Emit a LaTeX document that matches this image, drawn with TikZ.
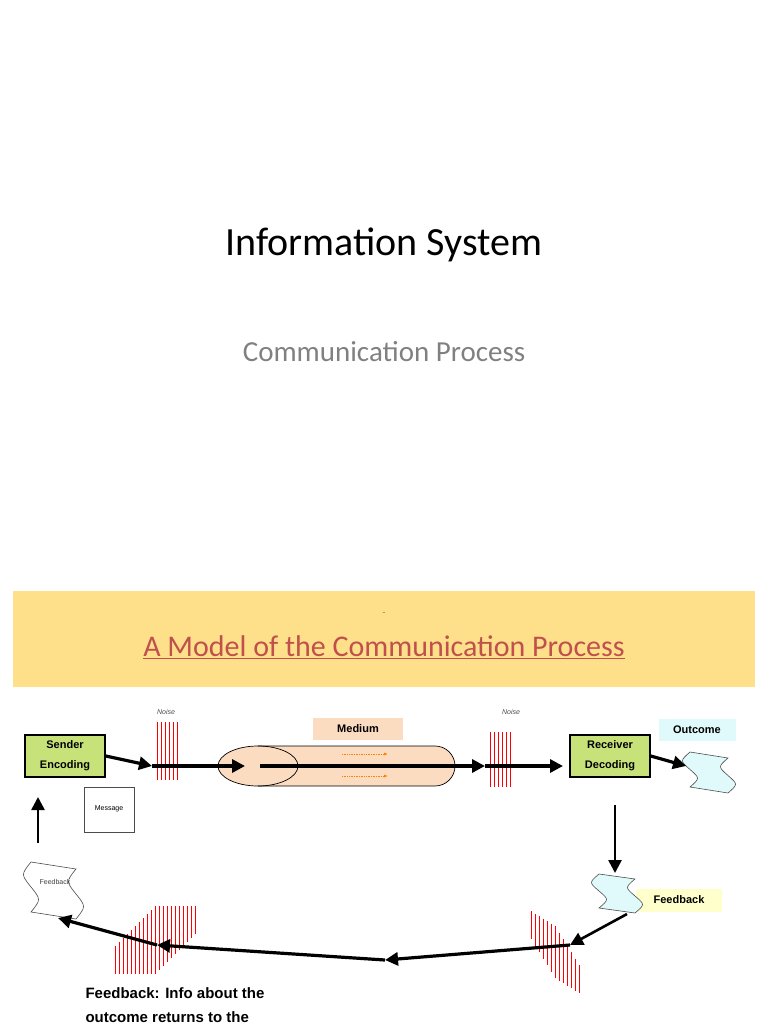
\documentclass[tikz,border=0pt]{standalone}
\usepackage{fontspec}
\setmainfont{Carlito}
\setsansfont{Liberation Sans}
\usetikzlibrary{arrows.meta}
\definecolor{bandyellow}{RGB}{255,224,138}
\definecolor{titlered}{RGB}{192,80,77}
\definecolor{boxgreen}{RGB}{200,226,122}
\definecolor{peach}{RGB}{252,220,192}
\definecolor{paleblue}{RGB}{224,250,252}
\definecolor{paleyellow}{RGB}{255,255,204}

\tikzset{
  stage/.style={draw=black, line width=1.6pt, fill=boxgreen, minimum width=80pt,
    minimum height=42pt, align=center, font=\sffamily\bfseries\fontsize{11}{20}\selectfont},
  tag/.style={inner sep=0pt, minimum height=22pt, font=\sffamily\bfseries\fontsize{11}{13}\selectfont},
  flow/.style={line width=3.2pt, -{Triangle[length=13pt,width=13pt]}},
  noise/.style={red, line width=0.8pt},
  doc/.style={draw=black!70, line width=0.6pt}
}
% wavy sheet: x, y, width, height, skew, fill
\newcommand{\wavysheet}[6]{%
  \draw[doc, fill=#6] (#1,#2) -- ++(#3,#5)
    .. controls ++(-10,#4/4) and ++(-10,-#4/4) .. ++(0,#4/2)
    .. controls ++(10,#4/4) and ++(10,-#4/4) .. ++(0,#4/2)
    -- ++(-#3,-#5)
    .. controls ++(10,-#4/4) and ++(10,#4/4) .. ++(0,-#4/2)
    .. controls ++(-10,-#4/4) and ++(-10,#4/4) .. cycle;}

\begin{document}
\begin{tikzpicture}[x=1pt, y=-1pt]
  \useasboundingbox (0,0) rectangle (768,1024);
  \clip (0,0) rectangle (768,1024);

  % title slide text
  \node (title) at (384,245) {\fontsize{40}{48}\selectfont Information System};
  \node[gray] (subtitle) at (384,352) {\fontsize{29}{34}\selectfont Communication Process};

  % banner
  \fill[bandyellow] (13,591) rectangle (755,687);
  \node[titlered, font=\fontsize{9}{10}\selectfont] (dash) at (384,614) {-};
  \node[titlered] (banner) at (384,647) {\fontsize{30}{36}\selectfont\underline{A Model of the Communication Process}};

  % medium cylinder
  \draw[fill=peach, line width=0.7pt] (258,746) -- (435,746) arc (90:-90:20pt and 20pt) -- (258,786) arc (270:90:40pt and 20pt);
  \draw[line width=0.7pt] (258,746) arc (90:-90:40pt and 20pt);
  \node[tag, fill=peach, minimum width=90pt] (medium) at (358,729) {Medium};
  \foreach \yy in {754,776}
    \draw[orange, densely dotted, line width=0.7pt, -{Latex[length=4pt]}] (342,\yy) -- (388,\yy);

  % stages
  \node[stage] (sender) at (65,756) {Sender\\Encoding};
  \node[stage] (receiver) at (610,756) {Receiver\\Decoding};
  \node[tag, fill=paleblue, minimum width=77pt] (outcome) at (697,730) {Outcome};
  \node[tag, fill=paleyellow, minimum width=86pt, minimum height=23pt] (fbtag) at (679,900) {Feedback};

  % documents
  \wavysheet{690}{752}{38}{35}{6}{paleblue}
  \wavysheet{599}{874}{36}{34}{5}{paleblue}
  \wavysheet{31}{862}{45}{50}{7}{white}
  \node[font=\sffamily\fontsize{7}{8}\selectfont, gray!50!black] (fbdoc) at (55,882) {Feedback};
  \draw[doc, fill=white] (84,787) rectangle (134,832);
  \node[font=\sffamily\fontsize{7}{8}\selectfont] (msg) at (109,809) {Message};

  % noise
  \foreach \xx in {157,161,...,177} \draw[noise] (\xx,722) -- (\xx,780);
  \foreach \xx in {490,494,...,510} \draw[noise] (\xx,732) -- (\xx,787);
  \node[font=\sffamily\itshape\fontsize{7}{8}\selectfont, gray!60!black] (noiseA) at (166,712) {Noise};
  \node[font=\sffamily\itshape\fontsize{7}{8}\selectfont, gray!60!black] (noiseB) at (511,712) {Noise};
  \foreach \i in {0,...,20}
    \draw[noise, line width=0.6pt] ({115+4*\i},{960-2*\i-14-2*min(\i,20-\i)}) -- ({115+4*\i},{960-2*\i+14+2*min(\i,20-\i)});
  \foreach \i in {0,...,12}
    \draw[noise, line width=0.6pt] ({531+4*\i},{925+4.5*\i-14-2*min(\i,12-\i)}) -- ({531+4*\i},{925+4.5*\i+14+2*min(\i,12-\i)});

  % connectors
  \coordinate (c1) at (152,766);
  \coordinate (c2) at (245,766);
  \coordinate (c3) at (485,766);
  \coordinate (c4) at (563,766);
  \coordinate (c5) at (686,766);
  \coordinate (d1) at (615,805);
  \coordinate (d2) at (615,873);
  \coordinate (r1) at (627,914);
  \coordinate (r2) at (570,945);
  \coordinate (m1) at (385,960);
  \coordinate (l1) at (157,945);
  \coordinate (l2) at (58,918);
  \coordinate (u1) at (38,843);
  \coordinate (u2) at (38,797);
  \draw[flow] (sender.east) -- (c1);
  \draw[flow] (c1) -- (c2);
  \draw[flow] (260,766) -- (c3);
  \draw[flow] (c3) -- (c4);
  \draw[flow] (receiver.east) -- (c5);
  \draw[flow, line width=2.6pt] (d1) -- (d2);
  \draw[flow, line width=2.6pt] (r1) -- (r2);
  \draw[flow] (r2) -- (m1);
  \draw[flow] (m1) -- (l1);
  \draw[flow] (l1) -- (l2);
  \draw[flow, line width=2.6pt] (u1) -- (u2);

  % caption
  \node[anchor=north west, align=left, font=\sffamily\bfseries\fontsize{15}{24}\selectfont] (caption) at (82,984)
    {Feedback: Info about the\\outcome returns to the};
\end{tikzpicture}
\end{document}
